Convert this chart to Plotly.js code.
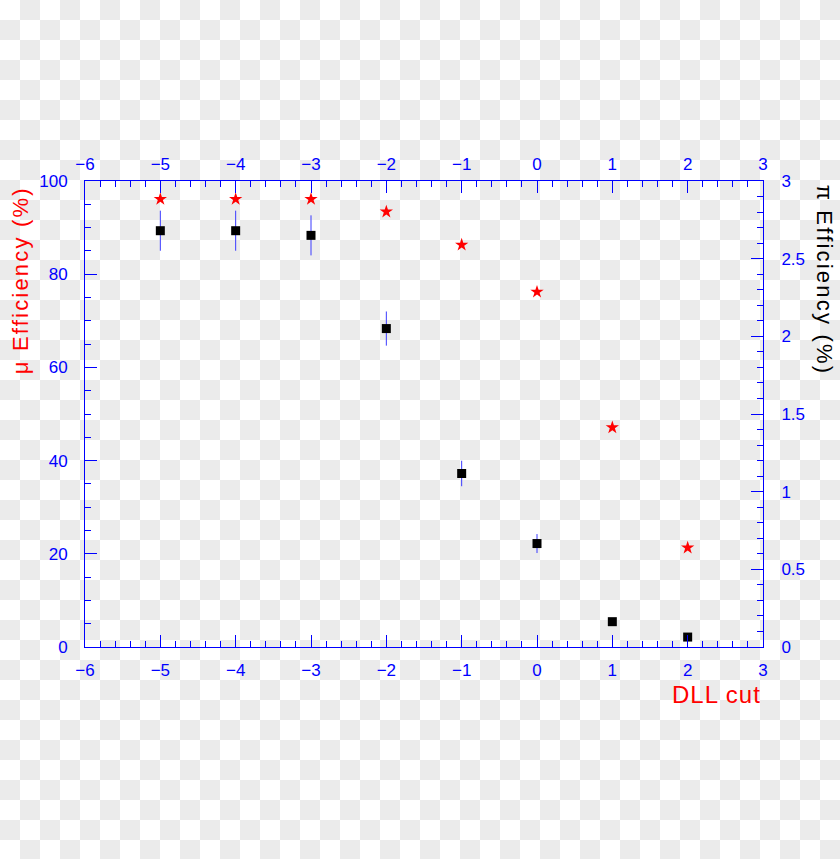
<!DOCTYPE html>
<html>
<head>
<meta charset="utf-8">
<script src="https://cdn.plot.ly/plotly-3.0.1.min.js"></script>
<style>
html, body { margin: 0; padding: 0; }
body {
  width: 840px; height: 859px;
  background-color: #ffffff;
  background-image: conic-gradient(#ebebeb 25%, #ffffff 0 50%, #ebebeb 0 75%, #ffffff 0);
  background-size: 40px 40px;
}
#chart { width: 840px; height: 859px; }
</style>
</head>
<body>
<div id="chart"></div>
<script>
// DLL cut values
const dllCut = [-5, -4, -3, -2, -1, 0, 1, 2];
// mu efficiency (%) - left axis
const muEff = [96.1, 96.1, 96.1, 93.4, 86.3, 76.2, 47.1, 21.3];
// pi efficiency (%) - right axis
const piEff = [2.68, 2.68, 2.65, 2.05, 1.117, 0.666, 0.163, 0.064];
const piErr = [0.129, 0.129, 0.129, 0.11, 0.082, 0.061, 0.02, 0.015];

const xTickVals = [-6, -5, -4, -3, -2, -1, 0, 1, 2, 3];
const yLeftTicks = [0, 20, 40, 60, 80, 100];
const yRightTicks = [0, 0.5, 1, 1.5, 2, 2.5, 3];

const blue = '#0000ff';
const axFont = {family: 'Liberation Sans, Arial, sans-serif', size: 17, color: blue};

const traces = [
  {
    x: dllCut, y: muEff, type: 'scatter', mode: 'markers',
    xaxis: 'x', yaxis: 'y',
    marker: {symbol: 'star', size: 10, color: '#ff0000', line: {width: 0}},
    hoverinfo: 'x+y', showlegend: false
  },
  {
    x: dllCut, y: piEff, type: 'scatter', mode: 'markers',
    xaxis: 'x2', yaxis: 'y2',
    marker: {symbol: 'square', size: 9, color: '#000000', line: {width: 0}},
    error_y: {type: 'data', array: piErr, visible: true, color: '#3b3bff', thickness: 1, width: 0},
    hoverinfo: 'x+y', showlegend: false
  }
];

const commonX = {
  range: [-6, 3], tickmode: 'array', tickvals: xTickVals,
  ticks: 'inside', ticklen: 12, tickwidth: 1, tickcolor: blue,
  minor: {dtick: 0.2, tick0: 0, ticks: 'inside', ticklen: 6, tickwidth: 1, tickcolor: blue},
  showline: true, linecolor: blue, linewidth: 1,
  showgrid: false, zeroline: false, tickfont: axFont, fixedrange: true
};

const layout = {
  width: 840, height: 859,
  margin: {l: 85, r: 77, t: 181, b: 212},
  paper_bgcolor: 'rgba(0,0,0,0)', plot_bgcolor: 'rgba(0,0,0,0)',
  showlegend: false,
  xaxis: Object.assign({}, commonX, {side: 'bottom', anchor: 'y', ticklabelstandoff: 8}),
  xaxis2: Object.assign({}, commonX, {side: 'top', overlaying: 'x', anchor: 'y2', ticklabelstandoff: 3}),
  yaxis: {
    range: [0, 100], tickmode: 'array', tickvals: yLeftTicks, side: 'left',
    ticks: 'inside', ticklen: 12, tickwidth: 1, tickcolor: blue,
    minor: {dtick: 5, tick0: 0, ticks: 'inside', ticklen: 6, tickwidth: 1, tickcolor: blue},
    showline: true, linecolor: blue, linewidth: 1,
    showgrid: false, zeroline: false, tickfont: axFont, ticklabelstandoff: 13, fixedrange: true
  },
  yaxis2: {
    range: [0, 3], tickmode: 'array', tickvals: yRightTicks, side: 'right',
    overlaying: 'y', anchor: 'x2',
    ticks: 'inside', ticklen: 12, tickwidth: 1, tickcolor: blue,
    minor: {dtick: 0.1, tick0: 0, ticks: 'inside', ticklen: 6, tickwidth: 1, tickcolor: blue},
    showline: true, linecolor: blue, linewidth: 1,
    showgrid: false, zeroline: false, tickfont: axFont, ticklabelstandoff: 14, fixedrange: true
  },
  annotations: [
    {
      text: '<span style="letter-spacing:2.2px">μ Efficiency (%)</span>',
      xref: 'paper', yref: 'paper', x: -0.0959, y: 0.993,
      xanchor: 'center', yanchor: 'top', textangle: -90, showarrow: false,
      font: {family: 'Liberation Sans, Arial, sans-serif', size: 22, color: '#ff0000'}
    },
    {
      text: '<span style="letter-spacing:2.2px">π Efficiency (%)</span>',
      xref: 'paper', yref: 'paper', x: 1.091, y: 0.996,
      xanchor: 'center', yanchor: 'top', textangle: 90, showarrow: false,
      font: {family: 'Liberation Sans, Arial, sans-serif', size: 22, color: '#000000'}
    },
    {
      text: '<span style="letter-spacing:1px">DLL cut</span>',
      xref: 'paper', yref: 'paper', x: 1.0, y: -0.068,
      xanchor: 'right', yanchor: 'top', showarrow: false,
      font: {family: 'Liberation Sans, Arial, sans-serif', size: 24, color: '#ff0000'}
    }
  ]
};

Plotly.newPlot('chart', traces, layout, {displayModeBar: false, staticPlot: true});
</script>
</body>
</html>
